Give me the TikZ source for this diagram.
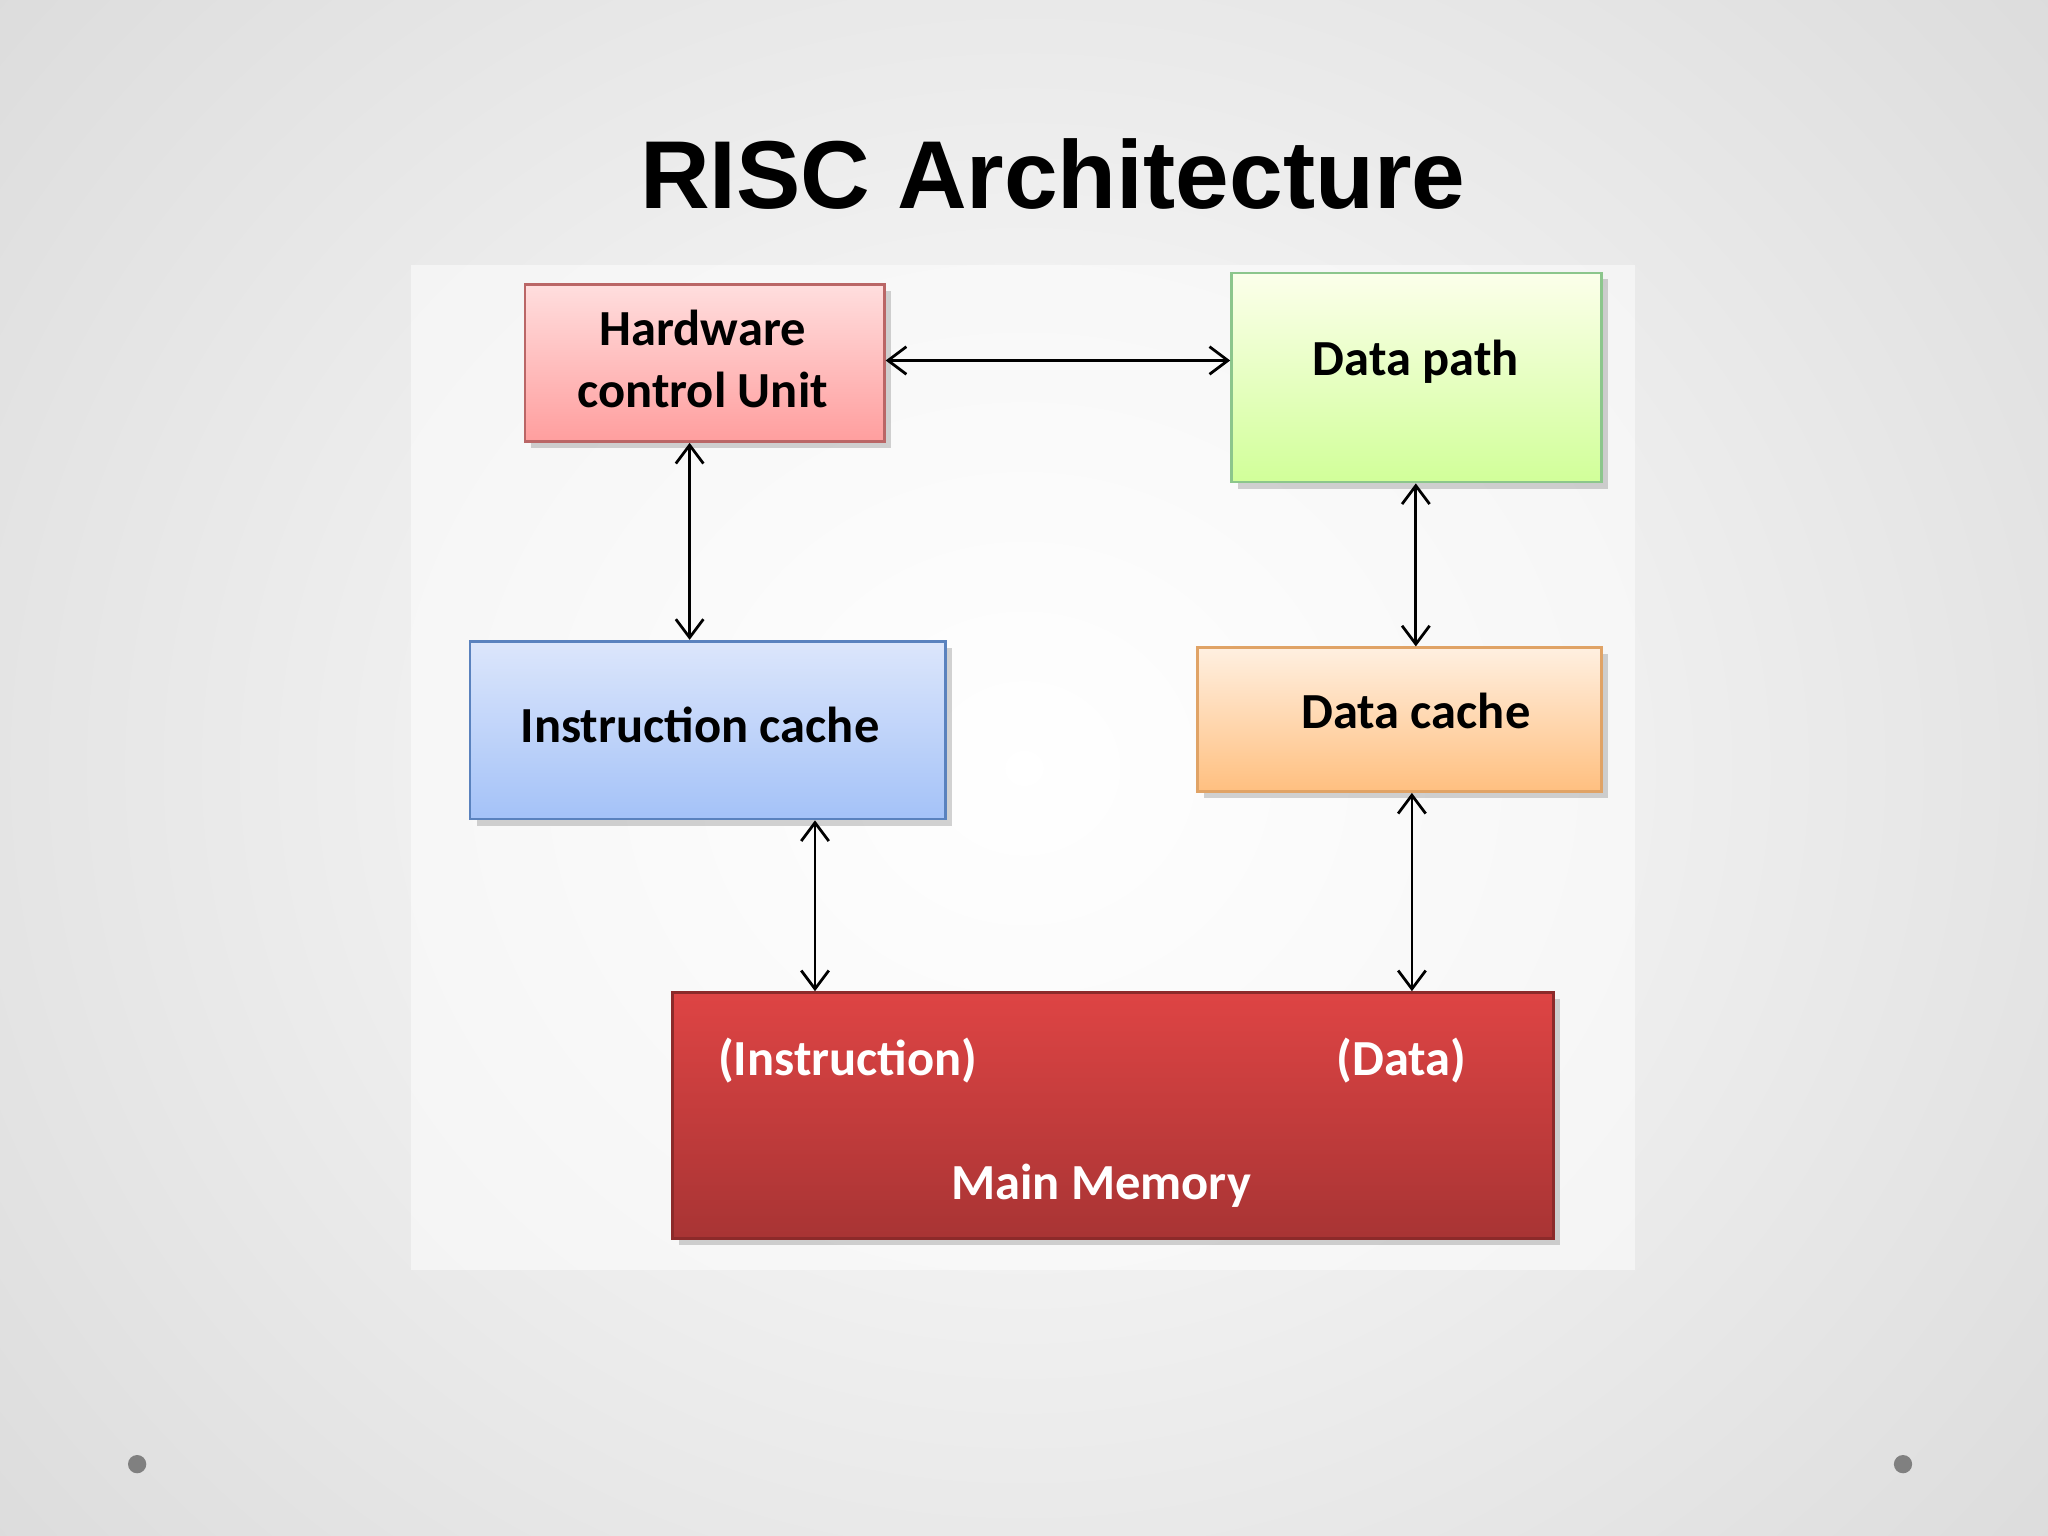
\documentclass[tikz,border=0pt]{standalone}
\usepackage{fontspec}
\setmainfont{Carlito}
\newfontfamily\titlefont{Liberation Sans}
\usetikzlibrary{arrows.meta,shadows}
\definecolor{bgout}{HTML}{DADADA}
\definecolor{bluetop}{HTML}{DCE6FB}
\definecolor{bluebot}{HTML}{A4C2F8}
\definecolor{blueline}{HTML}{5A82BE}
\definecolor{memtop}{HTML}{DE4444}
\definecolor{membot}{HTML}{A83434}
\definecolor{memline}{HTML}{8C2A2A}
\tikzset{
  box/.style={draw, line width=0.6pt, inner sep=0pt,
    drop shadow={shadow xshift=0.5mm, shadow yshift=-0.5mm, opacity=0.35}},
  lbl/.style={font=\bfseries\fontsize{11pt}{13.5pt}\selectfont, align=center},
  link/.style={<->, >={Straight Barb[length=4pt,width=6pt]}, line width=0.6pt, black}
}
\begin{document}
\begin{tikzpicture}[x=0.01cm,y=-0.01cm]
\useasboundingbox (0,0) rectangle (1568,1176);
\shade[inner color=white, outer color=bgout] (-300,-400) rectangle (1868,1576);
\fill[white, opacity=0.5] (315,203) rectangle (1252,972);
\node[font=\titlefont\bfseries\fontsize{21pt}{25pt}\selectfont, text=black] (title) at (806,133) {RISC Architecture};
\node[box, draw=red!55!black!60, top color=red!13, bottom color=red!38, minimum width=2.75cm, minimum height=1.2cm] (hcu) at (539.5,278) {};
\node[lbl] (hcut) at (538,275) {Hardware\\control Unit};
\node[box, draw=green!50!black!45, top color=green!15!yellow!8, bottom color=green!45!yellow!40, minimum width=2.83cm, minimum height=1.6cm] (dp) at (1084.5,289) {};
\node[lbl] (dpt) at (1084,277) {Data path};
\node[box, draw=blueline, top color=bluetop, bottom color=bluebot, minimum width=3.64cm, minimum height=1.36cm] (ic) at (542,559) {};
\node[lbl] (ict) at (536,555) {Instruction cache};
\node[box, draw=orange!80!black!60, top color=orange!12, bottom color=orange!50, minimum width=3.09cm, minimum height=1.1cm] (dc) at (1071.5,551) {};
\node[lbl] (dct) at (1084,544) {Data cache};
\node[box, draw=memline, top color=memtop, bottom color=membot, minimum width=6.74cm, minimum height=1.88cm] (mm) at (852,854) {};
\node[lbl, text=white] (mi) at (649,812) {(Instruction)};
\node[lbl, text=white] (md) at (1073,812) {(Data)};
\node[lbl, text=white] (mml) at (843,908) {Main Memory};
\coordinate (x1) at (528,0);
\coordinate (x2) at (1084,0);
\coordinate (x3) at (624,0);
\coordinate (x4) at (1081,0);
\coordinate (y1) at (0,276);
\draw[link] (hcu.east |- y1) -- (dp.west |- y1);
\draw[link] (hcu.south -| x1) -- (ic.north -| x1);
\draw[link] (dp.south -| x2) -- (dc.north -| x2);
\draw[link] (ic.south -| x3) -- (mm.north -| x3);
\draw[link] (dc.south -| x4) -- (mm.north -| x4);
\fill[gray] (105,1121) circle (7);
\fill[gray] (1457,1121) circle (7);
\end{tikzpicture}
\end{document}
